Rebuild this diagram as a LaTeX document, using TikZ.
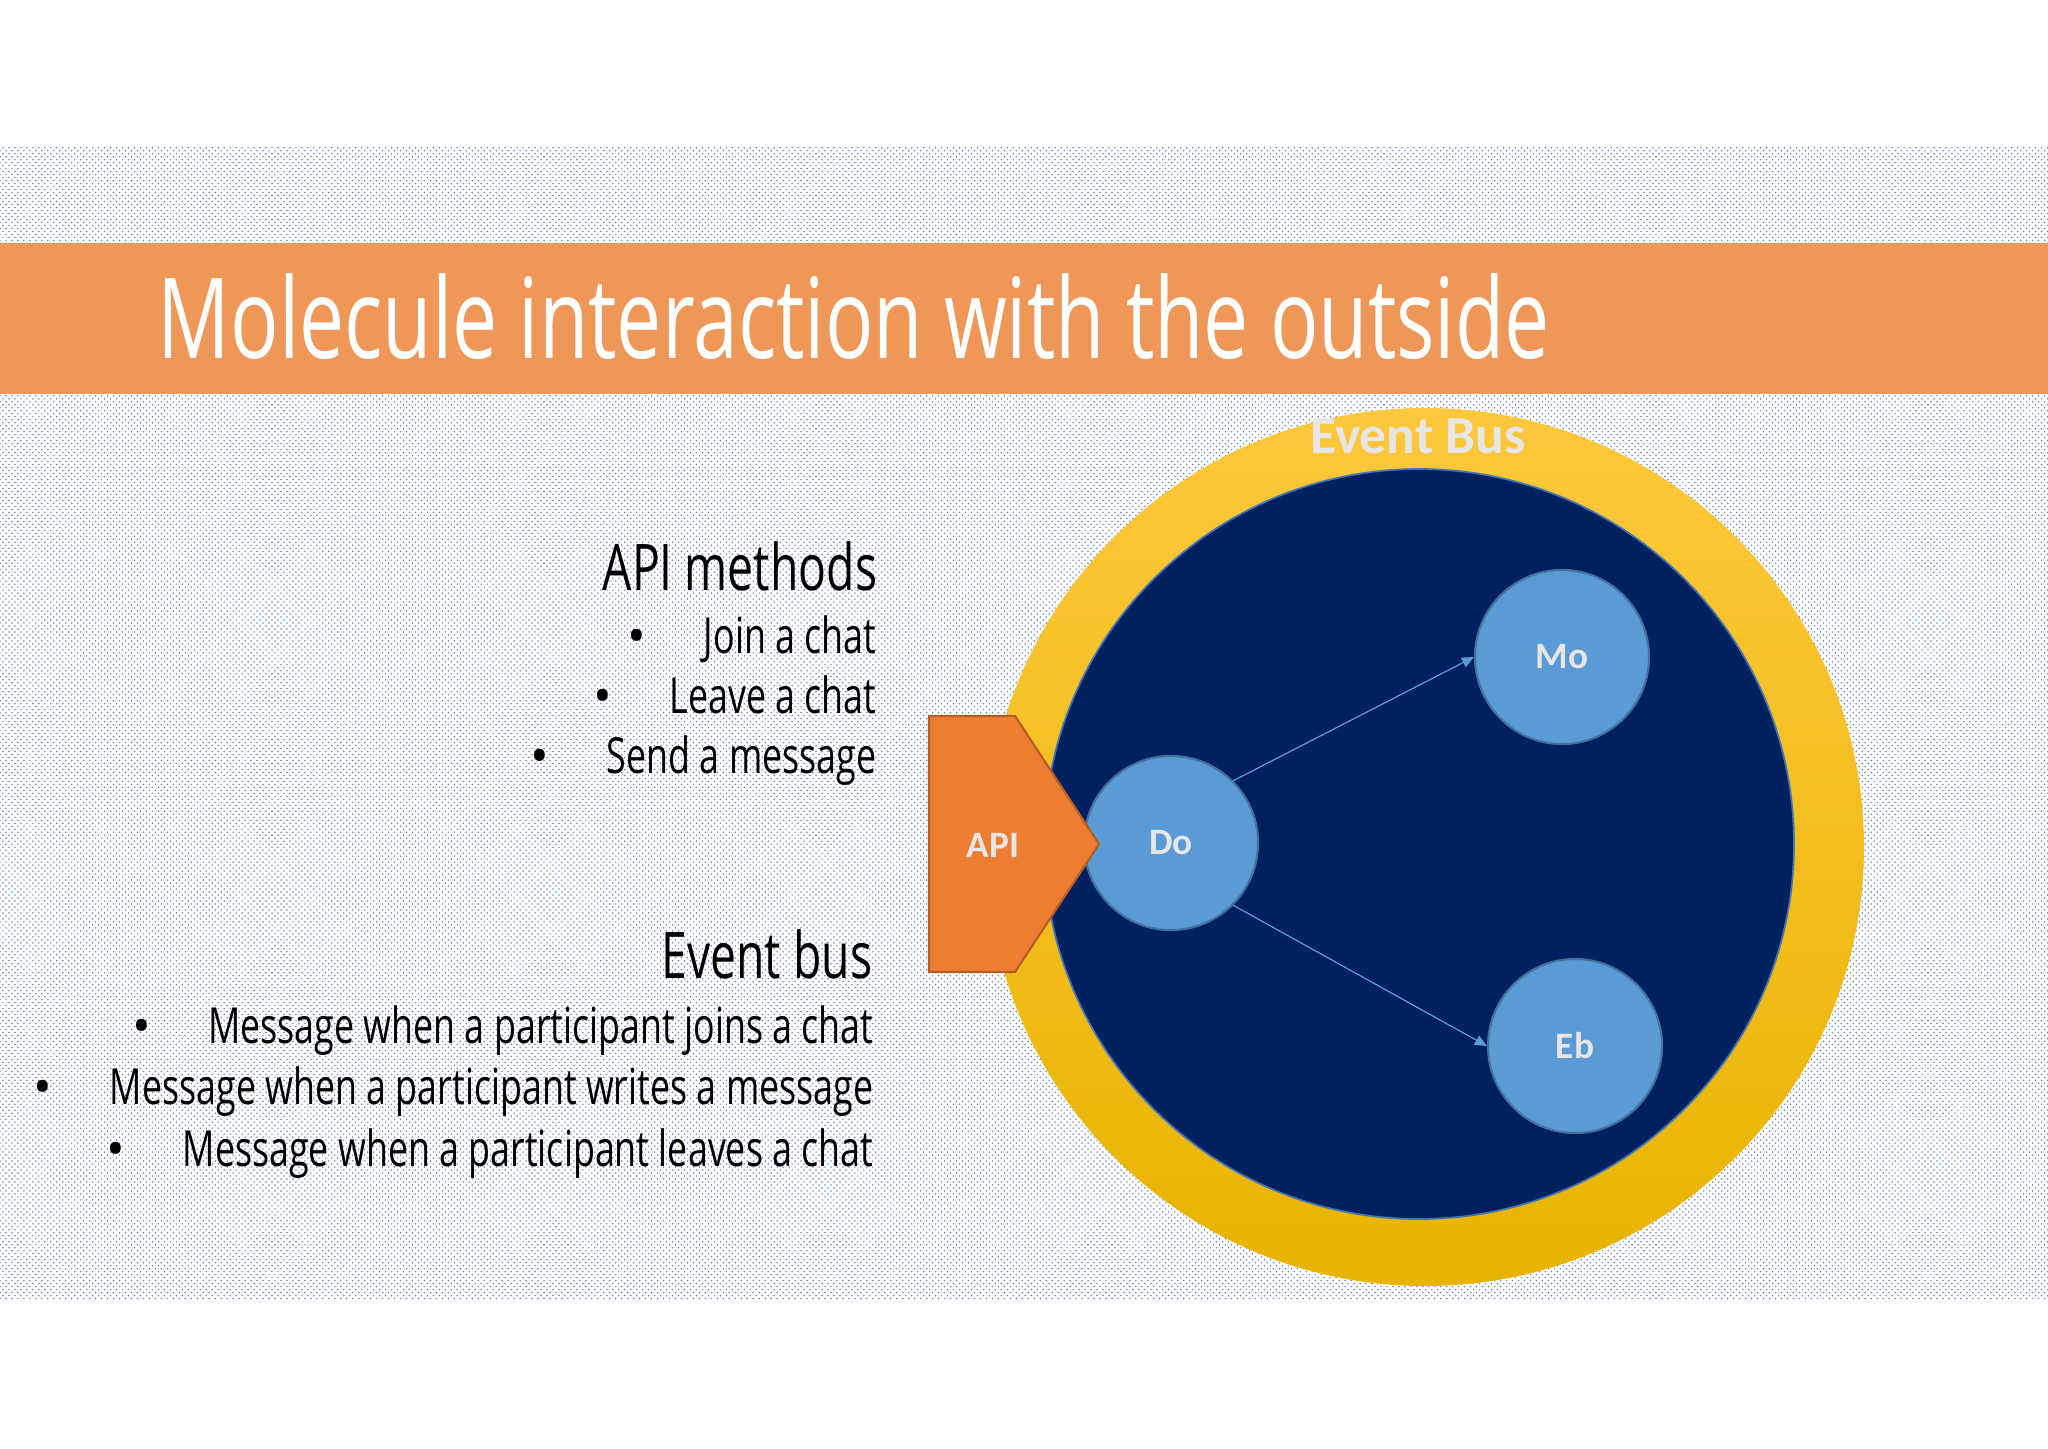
\documentclass[tikz,border=0pt]{standalone}
\usepackage{fontspec}
\setmainfont{Open Sans}[FakeStretch=0.72]
\newfontfamily\bulfont{Open Sans}
\newfontfamily\lblfont{Carlito}
\usetikzlibrary{arrows.meta,patterns.meta,positioning}

\definecolor{bandorange}{RGB}{238,151,88}
\definecolor{apiorange}{RGB}{237,125,49}
\definecolor{apiedge}{RGB}{180,94,36}
\definecolor{ringtop}{RGB}{255,200,61}
\definecolor{ringbot}{RGB}{232,180,0}
\definecolor{navy}{RGB}{0,32,96}
\definecolor{molblue}{RGB}{91,155,213}
\definecolor{moledge}{RGB}{65,113,156}
\definecolor{lblgray}{RGB}{231,230,230}
\definecolor{dotblue}{RGB}{95,130,185}

\tikzdeclarepattern{
  name=bgdots, type=uncolored,
  bottom left={(-0.3pt,-0.3pt)}, top right={(1.4pt,1.4pt)},
  tile size={(1.7pt,1.7pt)},
  code={\fill (0,0) circle (0.24pt); \fill (0.85pt,0.85pt) circle (0.24pt);}
}

\newcommand\bul{\makebox[0.76cm][l]{\bulfont\textbullet}}

\begin{document}
\begin{tikzpicture}[x=0.01cm,y=-0.01cm,
  mol/.style={circle,draw=moledge,line width=0.6pt,fill=molblue,minimum size=1.74cm,inner sep=0pt,
    text=lblgray,font=\lblfont\bfseries\fontsize{10.6}{12}\selectfont},
  link/.style={draw=molblue,line width=0.35pt,-{Triangle[length=3.4pt,width=3pt]}},
  head/.style={anchor=base east,inner sep=0pt,font=\fontsize{18.3}{20}\selectfont},
  item/.style={anchor=base east,inner sep=0pt,font=\fontsize{14.15}{16}\selectfont}]
\useasboundingbox (0,0) rectangle (2048,1448);
% background
\fill[white] (0,0) rectangle (2048,1448);
\fill[pattern=bgdots,pattern color=dotblue] (0,146) rectangle (2048,1299);
\fill[bandorange] (0,243) rectangle (2048,394);
\node[anchor=base west,inner sep=0pt,text=white,font=\fontsize{31.8}{34}\selectfont] (title) at (157,358) {Molecule interaction with the outside};

% event bus
\shade[top color=ringtop,bottom color=ringbot] (1425,847) circle (439);
\filldraw[fill=navy,draw=molblue!70!navy,line width=0.5pt] (1419,844) circle (375);
\node[anchor=base,inner sep=0pt,text=lblgray,font=\lblfont\bfseries\fontsize{15.2}{17}\selectfont] (bus) at (1418,453) {Event Bus};

% molecules
\node[mol] (do) at (1171,843) {Do};
\node[mol] (mo) at (1562,657) {Mo};
\node[mol] (eb) at (1575,1046) {Eb};
\draw[link] (do.north east) -- (mo.west);
\draw[link] (do.south east) -- (eb.west);

% api
\filldraw[fill=apiorange,draw=apiedge,line width=0.6pt] (929,716) -- (1015,716) -- (1099,844) -- (1015,972) -- (929,972) -- cycle;
\node[text=lblgray,font=\lblfont\bfseries\fontsize{10.6}{12}\selectfont] (api) at (993,845) {API};

% texts
\node[head] (apihead) at (878,590) {API methods};
\node[item] (join) at (877,653) {\bul Join a chat};
\node[item] (leave) at (877,713) {\bul Leave a chat};
\node[item] (send) at (877,773) {\bul Send a message};

\node[head] (bushead) at (873,978) {Event bus};
\node[item] (joins) at (874,1043) {\bul Message when a participant joins a chat};
\node[item] (writes) at (874,1104) {\bul Message when a participant writes a message};
\node[item] (leaves) at (874,1166) {\bul Message when a participant leaves a chat};
\end{tikzpicture}
\end{document}
